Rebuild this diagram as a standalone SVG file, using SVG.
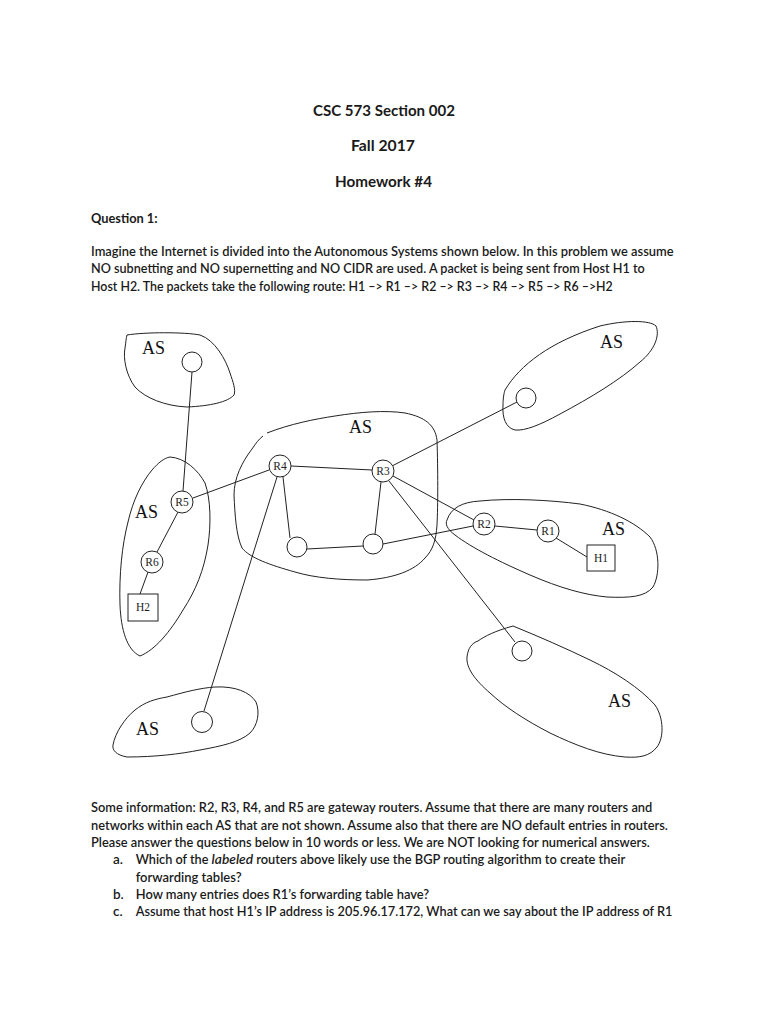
<svg xmlns="http://www.w3.org/2000/svg" width="768" height="1024" viewBox="0 0 768 1024">
<style>
.t{font-family:Lato,"Open Sans","Liberation Sans",sans-serif;font-size:13.5px;font-weight:600;fill:#1a1a1a}
.b{font-weight:700}
.h{font-family:Lato,"Open Sans","Liberation Sans",sans-serif;font-size:15.5px;font-weight:700;fill:#1a1a1a}
.as{font-family:"Liberation Serif",serif;font-size:18px;fill:#111}
.lb{font-family:"Liberation Serif",serif;font-size:11.5px;fill:#222}
.blob{fill:none;stroke:#222;stroke-width:1}
.ln{stroke:#222;stroke-width:1;fill:none}
.nd{fill:#fff;stroke:#222;stroke-width:1}
</style>
<rect width="768" height="1024" fill="#fff"/>
<g id="header">
<text class="h" x="313" y="116" textLength="142" lengthAdjust="spacingAndGlyphs">CSC 573 Section 002</text>
<text class="h" x="351" y="151" textLength="64" lengthAdjust="spacingAndGlyphs">Fall 2017</text>
<text class="h" x="335" y="187" textLength="97" lengthAdjust="spacingAndGlyphs">Homework #4</text>
<text class="t b" x="91" y="222.5" textLength="66.6" lengthAdjust="spacingAndGlyphs">Question 1:</text>
<text class="t" x="91" y="256" textLength="582.6" lengthAdjust="spacingAndGlyphs">Imagine the Internet is divided into the Autonomous Systems shown below. In this problem we assume</text>
<text class="t" x="91" y="273.3" textLength="553.7" lengthAdjust="spacingAndGlyphs">NO subnetting and NO supernetting and NO CIDR are used. A packet is being sent from Host H1 to</text>
<text class="t" x="91" y="290.6" textLength="521.8" lengthAdjust="spacingAndGlyphs">Host H2. The packets take the following route: H1 –&gt; R1 –&gt; R2 –&gt; R3 –&gt; R4 –&gt; R5 –&gt; R6 –&gt;H2</text>
</g>
<g id="as-blobs">
<path id="as-topleft" class="blob" d="M127,335 C145,332 185,332 200,335 C215,340 226,360 230,373 C233,382 236,390 234,395 C228,402 210,406 187,407 C165,406 145,398 135,387 C126,375 123,358 125,348 C126,342 126,338 127,335 Z"/>
<path id="as-left" class="blob" d="M170,457 C185,458 198,470 205,483 C211,500 211,525 208,545 C204,570 196,590 183,610 C170,632 155,650 140,656 C127,650 121,630 120,605 C119,575 122,545 128,522 C133,500 142,482 152,470 C158,463 164,458 170,457 Z"/>
<path id="as-center" class="blob" d="M267,433 C290,424 315,419 335,416 C360,412 385,410 405,413 C425,417 435,425 437,440 C438,470 438,505 437,525 C436,540 433,550 425,558 C415,570 395,578 367,580 C340,580 315,578 295,572 C270,565 250,558 242,548 C236,535 235,515 234,495 C234,478 242,462 252,449 C256,443 259,439 263,436"/>
<path id="as-topright" class="blob" d="M505,390 C520,365 550,342 600,326 C625,320 650,320 656,326 C660,335 655,350 640,362 C620,380 590,398 560,414 C540,425 525,431 515,430 C506,428 502,418 503,405 C503,398 504,393 505,390 Z"/>
<path id="as-right" class="blob" d="M447,520 C451,508 462,502 480,501 C510,498 550,500 580,504 C610,510 635,522 650,537 C660,550 660,575 653,587 C645,597 630,598 607,597 C585,595 560,588 530,575 C500,562 472,548 455,535 C447,529 445,524 447,520 Z"/>
<path id="as-bottomleft" class="blob" d="M135,710 C145,702 155,699 167,697 C185,692 200,688 215,687 C235,686 250,692 256,702 C260,712 258,725 250,733 C240,742 222,746 200,750 C180,754 155,757 127,757 C116,755 112,750 113,745 C115,733 125,718 135,710 Z"/>
<path id="as-bottomright" class="blob" d="M513,626 C540,637 565,648 590,660 C615,672 640,688 655,705 C664,718 664,738 657,747 C650,756 640,758 625,757 C600,755 575,745 550,733 C525,720 505,707 490,693 C475,680 466,668 467,657 C468,648 472,643 478,641 C485,636 495,631 513,626 Z"/>
<text class="as" x="142" y="354">AS</text>
<text class="as" x="135" y="518">AS</text>
<text class="as" x="349" y="433">AS</text>
<text class="as" x="600" y="348">AS</text>
<text class="as" x="602" y="535">AS</text>
<text class="as" x="136" y="735">AS</text>
<text class="as" x="608" y="707">AS</text>
</g>
<g id="connectors">
<line class="ln" x1="192" y1="372" x2="183" y2="491"/>
<line class="ln" x1="193" y1="498" x2="269" y2="470"/>
<line class="ln" x1="178" y1="512" x2="157" y2="552"/>
<line class="ln" x1="148" y1="572" x2="140" y2="594"/>
<line class="ln" x1="291" y1="466" x2="372" y2="470"/>
<line class="ln" x1="283" y1="477" x2="290" y2="538"/>
<line class="ln" x1="307" y1="549" x2="363" y2="546"/>
<line class="ln" x1="381" y1="482" x2="375" y2="534"/>
<line class="ln" x1="383" y1="544" x2="473" y2="526"/>
<line class="ln" x1="392" y1="466" x2="517" y2="402"/>
<line class="ln" x1="393" y1="476" x2="474" y2="520"/>
<line class="ln" x1="389" y1="481" x2="515" y2="642"/>
<line class="ln" x1="277" y1="477" x2="204" y2="711"/>
<line class="ln" x1="495" y1="526" x2="537" y2="530"/>
<line class="ln" x1="556" y1="538" x2="587" y2="557"/>
</g>
<g id="n-top-left"><circle class="nd" cx="192" cy="362" r="10"/></g>
<g id="n-R5"><circle class="nd" cx="182" cy="502" r="11"/><text class="lb" x="182" y="506" text-anchor="middle">R5</text></g>
<g id="n-R6"><circle class="nd" cx="152" cy="562" r="11"/><text class="lb" x="152" y="566" text-anchor="middle">R6</text></g>
<g id="n-H2"><rect class="nd" x="128" y="594" width="30" height="27"/><text class="lb" x="143" y="611" text-anchor="middle">H2</text></g>
<g id="n-R4"><circle class="nd" cx="280" cy="466" r="11"/><text class="lb" x="280" y="470" text-anchor="middle">R4</text></g>
<g id="n-R3"><circle class="nd" cx="383" cy="471" r="11"/><text class="lb" x="383" y="475" text-anchor="middle">R3</text></g>
<g id="n-c1"><circle class="nd" cx="297" cy="547" r="10"/></g>
<g id="n-c2"><circle class="nd" cx="373" cy="544" r="10"/></g>
<g id="n-top-right"><circle class="nd" cx="526" cy="398" r="10"/></g>
<g id="n-R2"><circle class="nd" cx="484" cy="524" r="11"/><text class="lb" x="484" y="528" text-anchor="middle">R2</text></g>
<g id="n-R1"><circle class="nd" cx="548" cy="531" r="11"/><text class="lb" x="548" y="535" text-anchor="middle">R1</text></g>
<g id="n-H1"><rect class="nd" x="587" y="545" width="28" height="26"/><text class="lb" x="601" y="562" text-anchor="middle">H1</text></g>
<g id="n-bottom-right"><circle class="nd" cx="522" cy="651" r="10"/></g>
<g id="n-bottom-left"><circle class="nd" cx="202" cy="722" r="10.5"/></g>
<g id="footer">
<text class="t" x="91" y="812.3" textLength="561.3" lengthAdjust="spacingAndGlyphs">Some information: R2, R3, R4, and R5 are gateway routers. Assume that there are many routers and</text>
<text class="t" x="91" y="829.6" textLength="576.9" lengthAdjust="spacingAndGlyphs">networks within each AS that are not shown. Assume also that there are NO default entries in routers.</text>
<text class="t" x="91" y="846.9" textLength="558.8" lengthAdjust="spacingAndGlyphs">Please answer the questions below in 10 words or less. We are NOT looking for numerical answers.</text>
<text class="t" x="113" y="864.2">a.</text>
<text class="t" x="135.7" y="864.2" textLength="72.8" lengthAdjust="spacingAndGlyphs">Which of the</text>
<text class="t" x="211.6" y="864.2" font-style="italic" font-weight="400" textLength="41.5" lengthAdjust="spacingAndGlyphs">labeled</text>
<text class="t" x="256.2" y="864.2" textLength="369.1" lengthAdjust="spacingAndGlyphs">routers above likely use the BGP routing algorithm to create their</text>
<text class="t" x="135.7" y="881.5" textLength="105.9" lengthAdjust="spacingAndGlyphs">forwarding tables?</text>
<text class="t" x="113" y="898.8">b.</text>
<text class="t" x="135.7" y="898.8" textLength="293.5" lengthAdjust="spacingAndGlyphs">How many entries does R1’s forwarding table have?</text>
<text class="t" x="113" y="916.1">c.</text>
<text class="t" x="135.7" y="916.1" textLength="536.8" lengthAdjust="spacingAndGlyphs">Assume that host H1’s IP address is 205.96.17.172, What can we say about the IP address of R1</text>
</g>
</svg>
